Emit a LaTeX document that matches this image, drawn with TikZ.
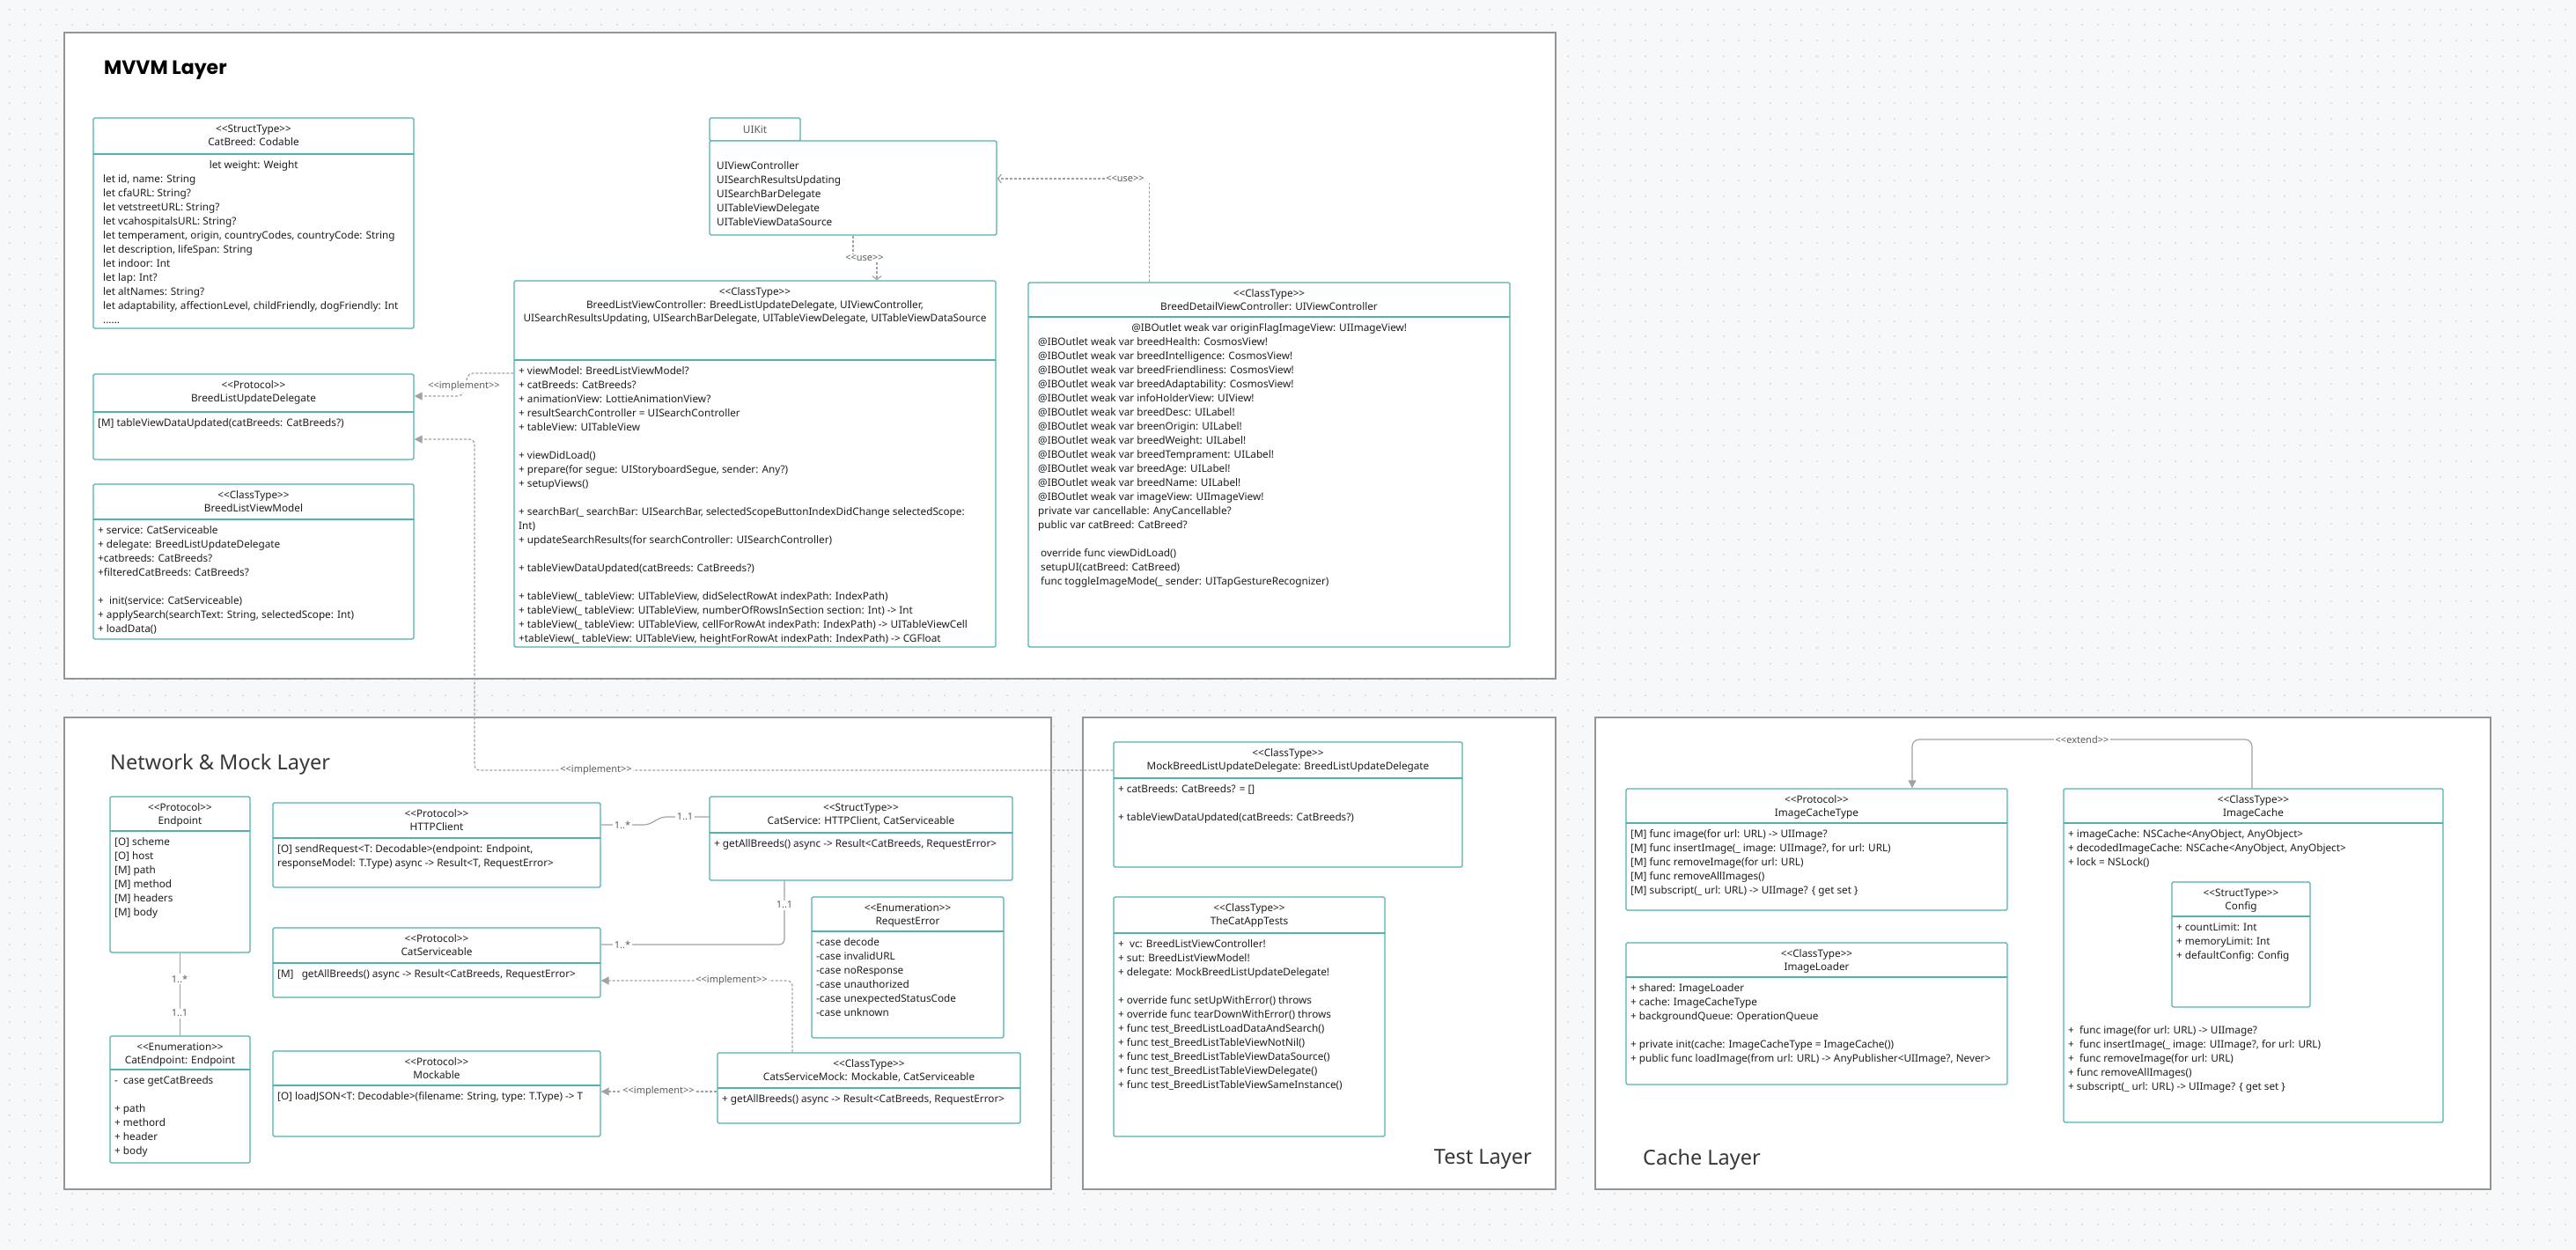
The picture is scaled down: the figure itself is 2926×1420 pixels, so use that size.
\documentclass[tikz,border=0pt]{standalone}
\usepackage{fontspec}
\usepackage{xcolor}
\usetikzlibrary{arrows.meta,positioning,fit,calc}
\newfontfamily\umlfont{Noto Sans}
\newfontfamily\mvvmfont{Poppins}
\definecolor{UmlTeal}{HTML}{52B2B2}
\definecolor{LinkGray}{HTML}{A2A2A2}
\definecolor{FrameGray}{HTML}{959595}
\definecolor{PageBg}{HTML}{F7F8FA}
\definecolor{DotGray}{HTML}{DDDFE4}
\definecolor{InkDark}{HTML}{1E1E1E}
\definecolor{LabelGray}{HTML}{5C5C5C}

% centred row inside a class body
\newcommand{\centred}[1]{\makebox[\rowwidth pt]{#1}}
% class box: [pad]{name}{x1}{y1}{x2}{y2}{divider y}{header}{body}
\newcommand{\umlclass}[9][5]{%
  \node[classbox, fit={(#3,#4) (#5,#6)}] (#2) {};
  \draw[classrule] (#3,#7) -- (#5,#7);
  \node[classhead] (#2-head) at ({(#3+#5)/2},#4+6) {\strut#8};
  \pgfmathsetmacro\rowwidth{#5-#3-2*#1}
  \node[classbody] (#2-body) at (#3+#1,#7+5) {\strut#9};
}

\begin{document}
\begin{tikzpicture}[
  x=1pt, y=-1pt,
  layer/.style={draw=FrameGray, line width=1.6pt, fill=white, inner sep=0pt},
  classbox/.style={draw=UmlTeal, line width=1.3pt, rounded corners=1.5pt, fill=white, inner sep=0pt},
  classrule/.style={draw=UmlTeal, line width=1.3pt},
  classhead/.style={anchor=north, align=center, inner sep=0pt, text=InkDark,
    font=\umlfont\fontsize{11.75}{15}\selectfont},
  classbody/.style={anchor=north west, align=left, inner sep=0pt, text=InkDark,
    font=\umlfont\fontsize{11.75}{16}\selectfont},
  layertitle/.style={anchor=west, inner sep=0pt, text=black!78,
    font=\umlfont\fontsize{23.5}{28}\selectfont},
  link/.style={draw=LinkGray, line width=1.2pt},
  dashlink/.style={link, dash pattern=on 3pt off 2pt},
  realize/.style={-{Triangle[length=9pt,width=9pt]}},
  usetip/.style={-{Straight Barb[length=4pt,width=10pt]}},
  linklabel/.style={fill=white, inner sep=1.5pt, text=LabelGray,
    font=\umlfont\fontsize{11}{13}\selectfont},
  dotrow/.style={draw=DotGray, line width=2pt, dash pattern=on 2pt off 15.7pt, dash phase=8pt}
]
\useasboundingbox (0,0) rectangle (2926,1420);
\fill[PageBg] (0,0) rectangle (2926,1420);
\foreach \row in {0,...,79}
  \draw[dotrow] (0,10.7+17.7*\row) -- (2926,10.7+17.7*\row);

% layers
\node[layer, fit={(73,37) (1767,771)}] (mvvm) {};
\node[layer, fit={(73,815) (1194,1351)}] (network) {};
\node[layer, fit={(1230,815) (1767,1351)}] (testing) {};
\node[layer, fit={(1812,815) (2829,1351)}] (caching) {};

\node[layertitle, text=black, font=\mvvmfont\bfseries\fontsize{22}{26}\selectfont] (mvvm-title) at (118,80) {MVVM Layer};
\node[layertitle] (network-title) at (125,868) {Network \& Mock Layer};
\node[layertitle, anchor=east] (testing-title) at (1740,1317) {Test Layer};
\node[layertitle] (caching-title) at (1866,1317) {Cache Layer};

% MVVM layer
\umlclass[11]{catbreed}{106}{134}{470}{373}{175}{<<StructType>>\\CatBreed: Codable}{%
  \centred{let weight: Weight}\\
  let id, name: String\\
  let cfaURL: String?\\
  let vetstreetURL: String?\\
  let vcahospitalsURL: String?\\
  let temperament, origin, countryCodes, countryCode: String\\
  let description, lifeSpan: String\\
  let indoor: Int\\
  let lap: Int?\\
  let altNames: String?\\
  let adaptability, affectionLevel, childFriendly, dogFriendly: Int\\
  ......}
\umlclass{blud}{106}{425}{470}{522}{468}{<<Protocol>>\\BreedListUpdateDelegate}{%
  {[M]} tableViewDataUpdated(catBreeds: CatBreeds?)}
\umlclass{blvm}{106}{550}{470}{726}{590}{<<ClassType>>\\BreedListViewModel}{%
  + service: CatServiceable\\
  + delegate: BreedListUpdateDelegate\\
  +catbreeds: CatBreeds?\\
  +filteredCatBreeds: CatBreeds?\\
  \\
  + \ init(service: CatServiceable)\\
  + applySearch(searchText: String, selectedScope: Int)\\
  + loadData()}

\node[classbox, fit={(806,134) (909,160)}] (uikit-tab) {};
\node[text=black!65, font=\umlfont\fontsize{11.75}{14}\selectfont] (uikit-name) at (uikit-tab) {UIKit};
\node[classbox, fit={(806,160) (1132,267)}] (uikit) {};
\node[classbody] (uikit-body) at (814,165) {\strut\\
  UIViewController\\
  UISearchResultsUpdating\\
  UISearchBarDelegate\\
  UITableViewDelegate\\
  UITableViewDataSource};

\umlclass{blvc}{584}{319}{1131}{735}{409}{<<ClassType>>\\BreedListViewController: BreedListUpdateDelegate, UIViewController,\\UISearchResultsUpdating, UISearchBarDelegate, UITableViewDelegate, UITableViewDataSource}{%
  + viewModel: BreedListViewModel?\\
  + catBreeds: CatBreeds?\\
  + animationView: LottieAnimationView?\\
  + resultSearchController = UISearchController\\
  + tableView: UITableView\\
  \\
  + viewDidLoad()\\
  + prepare(for segue: UIStoryboardSegue, sender: Any?)\\
  + setupViews()\\
  \\
  + searchBar(\_ searchBar: UISearchBar, selectedScopeButtonIndexDidChange selectedScope:\\
  Int)\\
  + updateSearchResults(for searchController: UISearchController)\\
  \\
  + tableViewDataUpdated(catBreeds: CatBreeds?)\\
  \\
  + tableView(\_ tableView: UITableView, didSelectRowAt indexPath: IndexPath)\\
  + tableView(\_ tableView: UITableView, numberOfRowsInSection section: Int) -> Int\\
  + tableView(\_ tableView: UITableView, cellForRowAt indexPath: IndexPath) -> UITableViewCell\\
  +tableView(\_ tableView: UITableView, heightForRowAt indexPath: IndexPath) -> CGFloat}

\umlclass[11]{bdvc}{1168}{321}{1715}{735}{360}{<<ClassType>>\\BreedDetailViewController: UIViewController}{%
  \centred{@IBOutlet weak var originFlagImageView: UIImageView!}\\
  @IBOutlet weak var breedHealth: CosmosView!\\
  @IBOutlet weak var breedIntelligence: CosmosView!\\
  @IBOutlet weak var breedFriendliness: CosmosView!\\
  @IBOutlet weak var breedAdaptability: CosmosView!\\
  @IBOutlet weak var infoHolderView: UIView!\\
  @IBOutlet weak var breedDesc: UILabel!\\
  @IBOutlet weak var breenOrigin: UILabel!\\
  @IBOutlet weak var breedWeight: UILabel!\\
  @IBOutlet weak var breedTemprament: UILabel!\\
  @IBOutlet weak var breedAge: UILabel!\\
  @IBOutlet weak var breedName: UILabel!\\
  @IBOutlet weak var imageView: UIImageView!\\
  private var cancellable: AnyCancellable?\\
  public var catBreed: CatBreed?\\
  \\
  \hspace{3pt}override func viewDidLoad()\\
  \hspace{3pt}setupUI(catBreed: CatBreed)\\
  \hspace{3pt}func toggleImageMode(\_ sender: UITapGestureRecognizer)}

% Network & Mock layer
\umlclass{endpoint}{125}{905}{284}{1082}{944}{<<Protocol>>\\Endpoint}{%
  {[O]} scheme\\ {[O]} host\\ {[M]} path\\ {[M]} method\\ {[M]} headers\\ {[M]} body}
\umlclass{catendpoint}{125}{1177}{284}{1321}{1215}{<<Enumeration>>\\CatEndpoint: Endpoint}{%
  - \ case getCatBreeds\\
  \\
  + path\\ + methord\\ + header\\ + body}
\umlclass{httpclient}{310}{912}{682}{1008}{952}{<<Protocol>>\\HTTPClient}{%
  {[O]} sendRequest<T: Decodable>(endpoint: Endpoint,\\
  responseModel: T.Type) async -> Result<T, RequestError>}
\umlclass{catserviceable}{310}{1054}{682}{1133}{1094}{<<Protocol>>\\CatServiceable}{%
  {[M]} \ \ getAllBreeds() async -> Result<CatBreeds, RequestError>}
\umlclass{mockable}{310}{1194}{682}{1291}{1233}{<<Protocol>>\\Mockable}{%
  {[O]} loadJSON<T: Decodable>(filename: String, type: T.Type) -> T}
\umlclass{catservice}{806}{905}{1150}{1000}{946}{<<StructType>>\\CatService: HTTPClient, CatServiceable}{%
  + getAllBreeds() async -> Result<CatBreeds, RequestError>}
\umlclass{requesterror}{922}{1019}{1140}{1179}{1058}{<<Enumeration>>\\RequestError}{%
  -case decode\\ -case invalidURL\\ -case noResponse\\ -case unauthorized\\
  -case unexpectedStatusCode\\ -case unknown}
\umlclass{servicemock}{815}{1196}{1159}{1276}{1236}{<<ClassType>>\\CatsServiceMock: Mockable, CatServiceable}{%
  + getAllBreeds() async -> Result<CatBreeds, RequestError>}

% Test layer
\umlclass{mockdelegate}{1265}{843}{1661}{985}{884}{<<ClassType>>\\MockBreedListUpdateDelegate: BreedListUpdateDelegate}{%
  + catBreeds: CatBreeds? = []\\
  \\
  + tableViewDataUpdated(catBreeds: CatBreeds?)}
\umlclass{cattests}{1265}{1019}{1573}{1291}{1060}{<<ClassType>>\\TheCatAppTests}{%
  + \ vc: BreedListViewController!\\
  + sut: BreedListViewModel!\\
  + delegate: MockBreedListUpdateDelegate!\\
  \\
  + override func setUpWithError() throws\\
  + override func tearDownWithError() throws\\
  + func test\_BreedListLoadDataAndSearch()\\
  + func test\_BreedListTableViewNotNil()\\
  + func test\_BreedListTableViewDataSource()\\
  + func test\_BreedListTableViewDelegate()\\
  + func test\_BreedListTableViewSameInstance()}

% Cache layer
\umlclass{imagecachetype}{1847}{896}{2280}{1034}{935}{<<Protocol>>\\ImageCacheType}{%
  {[M]} func image(for url: URL) -> UIImage?\\
  {[M]} func insertImage(\_ image: UIImage?, for url: URL)\\
  {[M]} func removeImage(for url: URL)\\
  {[M]} func removeAllImages()\\
  {[M]} subscript(\_ url: URL) -> UIImage? \{ get set \}}
\umlclass{imageloader}{1847}{1071}{2280}{1232}{1110}{<<ClassType>>\\ImageLoader}{%
  + shared: ImageLoader\\
  + cache: ImageCacheType\\
  + backgroundQueue: OperationQueue\\
  \\
  + private init(cache: ImageCacheType = ImageCache())\\
  + public func loadImage(from url: URL) -> AnyPublisher<UIImage?, Never>}
\umlclass{imagecache}{2344}{896}{2775}{1275}{935}{<<ClassType>>\\ImageCache}{%
  + imageCache: NSCache<AnyObject, AnyObject>\\
  + decodedImageCache: NSCache<AnyObject, AnyObject>\\
  + lock = NSLock()}
\node[classbody] (imagecache-funcs) at (2349,1163) {\strut
  + \ func image(for url: URL) -> UIImage?\\
  + \ func insertImage(\_ image: UIImage?, for url: URL)\\
  + \ func removeImage(for url: URL)\\
  + func removeAllImages()\\
  + subscript(\_ url: URL) -> UIImage? \{ get set \}};
\umlclass{config}{2467}{1002}{2624}{1144}{1041}{<<StructType>>\\Config}{%
  + countLimit: Int\\ + memoryLimit: Int\\ + defaultConfig: Config}

% connectors
\draw[dashlink, realize, rounded corners=5pt] (blvc.west |- 0,424) -- (532,424) -- (525,450) -- (blud.east |- 0,450);
\draw[dashlink, realize, rounded corners=6pt] (mockdelegate.west |- 0,875) -| (539,499) -- (blud.east |- 0,499);
\draw[link] (endpoint) -- (catendpoint);
\draw[link, rounded corners=5pt] (httpclient.east |- 0,937) -- (736,937) -- (752,928) -- (catservice.west |- 0,928);
\draw[link, rounded corners=6pt] (catserviceable.east |- 0,1073) -| (catservice.south -| 891,0);
\draw[dashlink, realize, rounded corners=6pt] (servicemock.north -| 900,0) |- (catserviceable.east |- 0,1114);
\draw[dashlink, realize] (servicemock.west |- 0,1240) -- (mockable.east |- 0,1240);
\draw[link, realize, rounded corners=8pt] (imagecache.north -| 2558,0) |- (2172,840) -- (imagecachetype.north -| 2172,0);

% connector labels
\node[linklabel] (use-list) at (982,293) {<<use>>};
\draw[dashlink] (uikit.south) -- (uikit.south |- use-list.north);
\draw[dashlink, usetip] ([xshift=14pt]use-list.south) -- ([xshift=14pt]use-list.south |- blvc.north);
\node[linklabel] (use-detail) at (1278,203) {<<use>>};
\draw[dashlink] ([xshift=4pt]use-detail.east |- bdvc.north) -- ([xshift=4pt]use-detail.south east);
\draw[dashlink, usetip] (use-detail.west) -- (use-detail.west -| uikit.east);
\node[linklabel] (impl-list) at (527,439) {<<implement>>};
\node[linklabel] (impl-mock) at (677,875) {<<implement>>};
\node[linklabel] (impl-service) at (831,1114) {<<implement>>};
\node[linklabel] (impl-mockable) at (748,1240) {<<implement>>};
\node[linklabel] (extend-cache) at (2365,840) {<<extend>>};
\node[linklabel] (mult-endpoint-a) at (204,1112) {1..*};
\node[linklabel] (mult-endpoint-b) at (204,1151) {1..1};
\node[linklabel] (mult-http-a) at (707,937) {1..*};
\node[linklabel] (mult-http-b) at (778,928) {1..1};
\node[linklabel] (mult-service-a) at (707,1073) {1..*};
\node[linklabel] (mult-service-b) at (891,1028) {1..1};
\end{tikzpicture}
\end{document}
